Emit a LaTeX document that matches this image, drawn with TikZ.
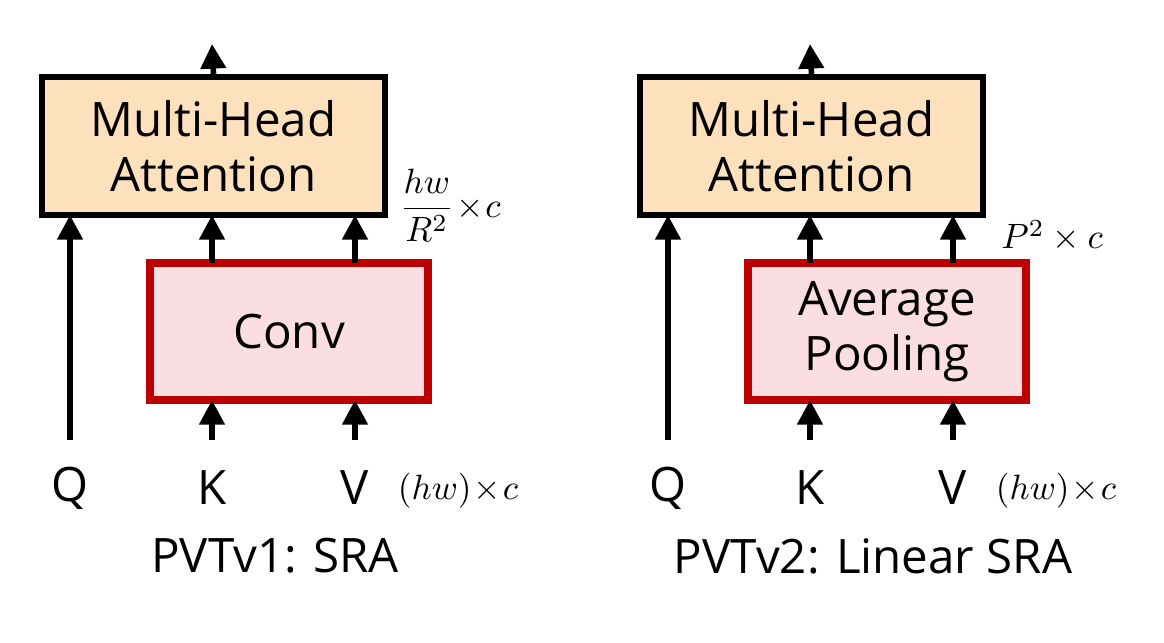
\documentclass[tikz,border=0pt]{standalone}
\usepackage{fontspec}
\setmainfont{Open Sans}
\usetikzlibrary{arrows.meta}
\definecolor{pk}{RGB}{250,222,225}
\definecolor{og}{RGB}{253,224,188}
\begin{document}
\begin{tikzpicture}[x=0.01cm,y=-0.01cm,
  mha/.style={draw=black,line width=1.8pt,fill=og,inner sep=0,font=\fontsize{13.5}{15.5}\selectfont,align=center},
  red/.style={draw=red!75!black,line width=2.2pt,fill=pk,inner sep=0,font=\fontsize{13.5}{15.5}\selectfont,align=center},
  arr/.style={line width=1.6pt,-{Triangle[length=7pt,width=7pt]}},
  lab/.style={font=\fontsize{13.5}{15.5}\selectfont},
  mth/.style={font=\fontsize{10}{12}\selectfont}]
\useasboundingbox (0,0) rectangle (1164,643);
\foreach \o/\t/\n/\sz in {0/PVTv1: SRA/Conv/a, 598/PVTv2: Linear SRA/{Average\\Pooling}/b}{
  \begin{scope}[xshift=\o*0.01cm]
  \node[mha,minimum width=343*0.01cm,minimum height=138*0.01cm] (m\sz) at (213.5,146) {Multi-Head\\Attention};
  \node[red,minimum width=278*0.01cm,minimum height=137*0.01cm] (r\sz) at (289,331.5) {\n};
  \node[lab] (q\sz) at (70,488) {Q};
  \node[lab] (k\sz) at (212,488) {K};
  \node[lab] (v\sz) at (355,488) {V};
  \node[lab] (t\sz) at (275,556) {\t};
  \coordinate (o\sz) at (212,44);
  \draw[arr] (70,440) -- (70,215);
  \draw[arr] (212,440) -- (212,400);
  \draw[arr] (355,440) -- (355,400);
  \draw[arr] (212,263) -- (212,215);
  \draw[arr] (355,263) -- (355,215);
  \draw[arr] (m\sz.north) -- (o\sz);
  \node[mth] (d\sz) at (458,491) {$(hw)\!\times\! c$};
  \end{scope}}
\node[mth] (e) at (450,205) {$\displaystyle\frac{hw}{R^2}\!\times\! c$};
\node[mth] (f) at (1052,236) {$P^2\times c$};
\end{tikzpicture}
\end{document}
